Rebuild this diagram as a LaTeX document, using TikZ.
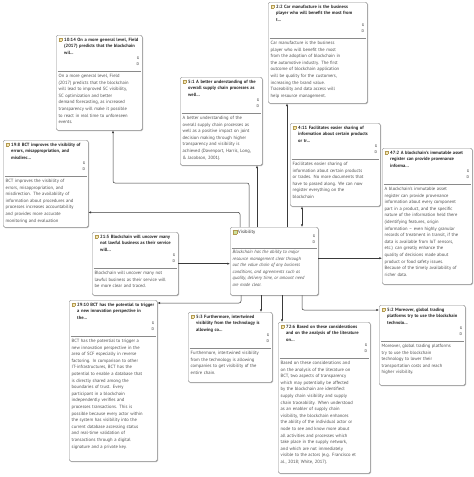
\documentclass[tikz,border=0pt]{standalone}
\usepackage{fontspec}
\setmainfont{PT Sans}
\usetikzlibrary{positioning, arrows.meta, shadows}

\definecolor{boxline}{HTML}{8A8A8A}
\definecolor{boxshadow}{HTML}{B0B0B0}
\definecolor{linkcol}{HTML}{3A3A3A}
\definecolor{titlecol}{HTML}{2A2A2A}
\definecolor{bodycol}{HTML}{505050}
\definecolor{iconfill}{HTML}{F4E7B8}
\definecolor{iconline}{HTML}{B39A50}
\definecolor{codefill}{HTML}{CDE29C}

\hyphenpenalty=10000
\exhyphenpenalty=10000

% small icons in the head of a box
\newcommand{\qicon}{{\setlength{\fboxsep}{0pt}\setlength{\fboxrule}{0.3pt}\fcolorbox{iconline}{iconfill}{\rule{0pt}{3pt}\rule{3pt}{0pt}}}}
\newcommand{\cicon}{{\setlength{\fboxsep}{0pt}\setlength{\fboxrule}{0.3pt}\fcolorbox{iconline}{codefill}{\rule{0pt}{3.5pt}\rule{3.5pt}{0pt}}}}
% icon + title with hanging lines
\newcommand{\qtitle}[2]{\hangindent=5.5pt\hangafter=1\noindent\makebox[5.5pt][l]{#1}{\let\\\newline #2}\par}
% fixed line pitch for the texts
\newcommand{\qlines}[1]{\baselineskip=6.6pt\lineskiplimit=-20pt\parskip=0pt\let\\\newline #1\par}
% name, x, y, width, height, text width, title, text
\newcommand{\quotebox}[8]{%
  \node[frame, minimum width=#4pt, minimum height=#5pt] (#1) at (#2,#3) {};
  \node[head, text width=#6pt] (#1title) at ([xshift=2.5pt, yshift=-2.5pt]#1.north west) {\qtitle{\qicon}{#7}};
  \node[count] (#1count) at ([xshift=-3pt, yshift=-21.5pt]#1.north east) {G\\D};
  \draw[sepline] ([xshift=1.5pt, yshift=-36pt]#1.north west) -- ([xshift=-1.5pt, yshift=-36pt]#1.north east);
  \node[body, text width=#6pt] (#1text) at ([xshift=2.5pt, yshift=-39pt]#1.north west) {\qlines{#8}};
}

\begin{document}
\begin{tikzpicture}[
    x=1pt, y=-1pt,
    frame/.style={
        draw=boxline,
        fill=white,
        rounded corners=1.5pt,
        drop shadow={shadow xshift=0.9pt, shadow yshift=-0.9pt, fill=boxshadow, opacity=1},
        anchor=north west,
        inner sep=0pt
    },
    head/.style={anchor=north west, inner sep=0pt, align=left, text=titlecol, font=\fontsize{4.6}{6.6}\selectfont\bfseries},
    count/.style={anchor=north east, inner sep=0pt, align=right, text=titlecol, font=\fontsize{3.8}{6}\selectfont},
    body/.style={anchor=north west, inner sep=0pt, align=left, text=bodycol, font=\fontsize{4.6}{6.6}\selectfont},
    sepline/.style={draw=boxline, line width=0.4pt},
    link/.style={draw=linkcol, line width=0.5pt, rounded corners=2pt, -{Latex[length=2.6pt,width=2.2pt]}}
]
\useasboundingbox (0,0) rectangle (474,477);

% quotations round the code
\quotebox{field}{56}{35}{86}{95}{81}{10:14 On a more general level, Field\\(2017) predicts that the blockchain\\wil...}
  {On a more general level, Field\\(2017) predicts that the blockchain\\will lead to improved SC visibility,\\SC optimization and better\\demand forecasting, as increased\\transparency will make it possible\\to react in real time to unforeseen\\events.}

\quotebox{davenport}{180}{77}{82}{88}{77}{5:1 A better understanding of the\\overall supply chain processes as\\well...}
  {A better understanding of the\\overall supply chain processes as\\well as a positive impact on joint\\decision making through higher\\transparency and visibility is\\achieved (Davenport, Harris, Long,\\\& Jacobson, 2001).}

\quotebox{carmaker}{268}{2}{99}{101}{94}{2:2 Car manufacture is the business\\player who will benefit the most from\\t...}
  {Car manufacture is the business\\player who will benefit the most\\from the adoption of blockchain in\\the automotive industry. The first\\outcome of blockchain application\\will be quality for the customers,\\increasing the brand value.\\Traceability and data access will\\help resource management.}

\quotebox{errors}{3}{140}{85}{87}{80}{19:8 BCT improves the visibility of\\errors, misappropriation, and\\misdirec...}
  {BCT improves the visibility of\\errors, misappropriation, and\\misdirection. The availability of\\information about procedures and\\processes increases accountability\\and provides more accurate\\monitoring and evaluation}

\quotebox{lawful}{92}{232}{86}{63}{81}{21:5 Blockchain will uncover many\\not lawful business as their service\\will...}
  {Blockchain will uncover many not\\lawful business as their service will\\be more clear and traced.}

\quotebox{innovation}{69}{300}{88}{161}{83}{29:10 BCT has the potential to trigger\\a new innovation perspective in\\the...}
  {BCT has the potential to trigger a\\new innovation perspective in the\\area of SCF especially in reverse\\factoring. In comparison to other\\IT-infrastructures, BCT has the\\potential to enable a database that\\is directly shared among the\\boundaries of trust. Every\\participant in a blockchain\\independently verifies and\\processes transactions. This is\\possible because every actor within\\the system has visibility into the\\current database accessing status\\and real-time validation of\\transactions through a digital\\signature and a private key.}

\quotebox{sharing}{290}{123}{90}{83}{85}{4:11 Facilitates easier sharing of\\information about certain products\\or tr...}
  {Facilitates easier sharing of\\information about certain products\\or trades. No more documents that\\have to passed along. We can now\\register everything on the\\blockchain}

\quotebox{register}{382}{148}{90}{136}{85}{47:2 A blockchain's immutable asset\\register can provide provenance\\informa...}
  {A blockchain's immutable asset\\register can provide provenance\\information about every component\\part in a product, and the specific\\nature of the information held there\\(identifying features, origin\\information -- even highly granular\\records of treatment in transit, if the\\data is available from IoT sensors,\\etc.) can greatly enhance the\\quality of decisions made about\\product or food safety issues.\\Because of the timely availability of\\richer data.}

\quotebox{intertwined}{188}{312}{84}{70}{79}{5:3 Furthermore, intertwined\\visibility from the technology is\\allowing co...}
  {Furthermore, intertwined visibility\\from the technology is allowing\\companies to get visibility of the\\entire chain.}

\quotebox{transp}{278}{322}{92}{151}{87}{72:6 Based on these considerations\\and on the analysis of the literature\\on...}
  {Based on these considerations and\\on the analysis of the literature on\\BCT, two aspects of transparency\\which may potentially be affected\\by the blockchain are identified:\\supply chain visibility and supply\\chain traceability. When understood\\as an enabler of supply chain\\visibility, the blockchain enhances\\the ability of the individual actor or\\node to see and know more about\\all activities and processes which\\take place in the supply network,\\and which are not immediately\\visible to the actors (e.g. Francisco et\\al., 2018; White, 2017).}

\quotebox{trading}{379}{305}{86}{80}{81}{5:2 Moreover, global trading\\platforms try to use the blockchain\\technolo...}
  {Moreover, global trading platforms\\try to use the blockchain\\technology to lower their\\transportation costs and reach\\higher visibility.}

% the code
\node[frame, minimum width=88pt, minimum height=68pt] (vis) at (230,227) {};
\node[head, text width=83pt, font=\fontsize{4.6}{6.6}\selectfont] (vistitle) at ([xshift=2.5pt, yshift=-2.5pt]vis.north west) {\qtitle{\cicon}{Visibility}};
\node[count] (viscount) at ([xshift=-3pt, yshift=-8pt]vis.north east) {G\\D};
\draw[sepline] ([xshift=1.5pt, yshift=-21pt]vis.north west) -- ([xshift=-1.5pt, yshift=-21pt]vis.north east);
\node[body, text width=83pt, font=\fontsize{4.6}{6.6}\selectfont\itshape] (vistext) at ([xshift=2.5pt, yshift=-23pt]vis.north west)
  {\qlines{Blockchain has the ability to major\\resource management clear through\\out the value chain of any business\\conditions, and agreements such as\\quality, delivery time, or amount need\\are made clear.}};

% attach points on the code
\coordinate (vt1) at ([xshift=10pt]vis.north west);
\coordinate (vt2) at ([xshift=19pt]vis.north west);
\coordinate (vt3) at ([xshift=27pt]vis.north west);
\coordinate (vt4) at ([xshift=57pt]vis.north west);
\coordinate (vt5) at ([xshift=72pt]vis.north west);
\coordinate (vb1) at ([xshift=11pt]vis.south west);
\coordinate (vb2) at ([xshift=31pt]vis.south west);
\coordinate (vb3) at ([xshift=52pt]vis.south west);
\coordinate (vb4) at ([xshift=72pt]vis.south west);
\coordinate (fieldjoin) at (113,183);

\draw[link] (vt1) |- ([yshift=15pt]errors.south east);
\draw[link] (vt2) |- (fieldjoin) -- (fieldjoin |- field.south);
\draw[link] (vt3) -- (vt3 |- davenport.south);
\draw[link] (vt4) -- (vt4 |- carmaker.south);
\draw[link, {Latex[length=2.6pt,width=2.2pt]}-{Latex[length=2.6pt,width=2.2pt]}] (vt5) -- (vt5 |- sharing.south);
\draw[link] ([yshift=3pt]vis.east) -- ([yshift=3pt]vis.east -| register.west);
\draw[link] (lawful.east) -- (lawful.east -| vis.west);
\draw[link] (vb1) |- ([yshift=-3pt]innovation.north east);
\draw[link] (vb2) -- (vb2 |- intertwined.north);
\draw[link] (vb3) -- (vb3 |- transp.north);
\draw[link] (vb4) |- ([yshift=-5pt]trading.north west);

\end{tikzpicture}
\end{document}
